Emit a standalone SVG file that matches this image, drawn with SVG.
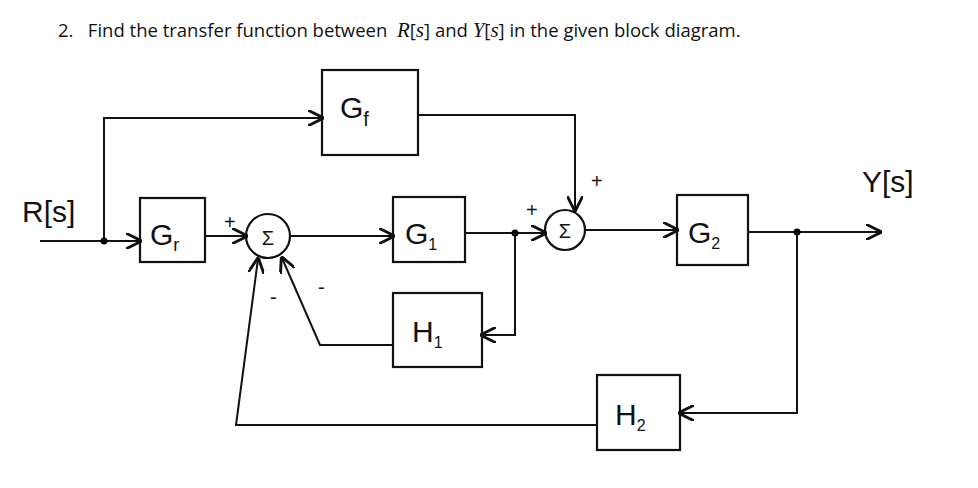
<svg xmlns="http://www.w3.org/2000/svg" width="978" height="488" viewBox="0 0 978 488">
<style>
.b{fill:none;stroke:#111;stroke-width:2.2}
.l{fill:none;stroke:#111;stroke-width:2}
.h{font-family:"Liberation Sans",sans-serif;font-size:30px;fill:#111}
.s{font-family:"Liberation Sans",sans-serif;font-size:20px;fill:#111}
.t{font-family:"Open Sans","Liberation Sans",sans-serif;font-size:18.5px;fill:#111}
</style>
<defs><marker id="a" viewBox="0 0 10 10" refX="9" refY="5" markerWidth="8" markerHeight="8" orient="auto"><path d="M0,0L10,5L0,10" fill="none" stroke="#111" stroke-width="1.8"/></marker></defs>
<rect width="978" height="488" fill="#fff"/>
<text x="58" y="37" class="t" xml:space="preserve">2.   Find the transfer function between  <tspan font-family="Liberation Serif" font-style="italic" font-size="21">R</tspan>[<tspan font-family="Liberation Serif" font-style="italic" font-size="21">s</tspan>] and <tspan font-family="Liberation Serif" font-style="italic" font-size="21">Y</tspan>[<tspan font-family="Liberation Serif" font-style="italic" font-size="21">s</tspan>] in the given block diagram.</text>
<g id="Gf"><rect x="322" y="70" width="96" height="85" class="b"/><text x="340" y="118" class="h">G<tspan font-size="20" dy="8">f</tspan></text></g>
<g id="Gr"><rect x="140" y="198" width="65" height="64" class="b"/><text x="150" y="245" class="h">G<tspan font-size="18" dy="6">r</tspan></text></g>
<g id="S1"><circle cx="268" cy="236" r="22" class="b"/><text x="268" y="245" class="s" font-size="26" text-anchor="middle">Σ</text></g>
<g id="G1"><rect x="393" y="197" width="72" height="65" class="b"/><text x="405" y="244" class="h">G<tspan font-size="16" dy="6">1</tspan></text></g>
<g id="S2"><circle cx="565" cy="230" r="20" class="b"/><text x="565" y="238" class="s" font-size="22" text-anchor="middle">Σ</text></g>
<g id="G2"><rect x="677" y="195" width="71" height="70" class="b"/><text x="688" y="243" class="h">G<tspan font-size="16" dy="6">2</tspan></text></g>
<g id="H1"><rect x="393" y="293" width="89" height="74" class="b"/><text x="412" y="342" class="h">H<tspan font-size="16" dy="6">1</tspan></text></g>
<g id="H2"><rect x="597" y="375" width="83" height="75" class="b"/><text x="615" y="425" class="h">H<tspan font-size="16" dy="6">2</tspan></text></g>
<g id="labels">
<text x="22" y="222" class="h" font-size="24">R[s]</text>
<text x="862" y="192" class="h" font-size="24">Y[s]</text>
<text x="224" y="229" class="s">+</text>
<text x="526" y="217" class="s">+</text>
<text x="591" y="188" class="s">+</text>
<text x="318" y="294" class="s">-</text>
<text x="270" y="304" class="s">-</text>
</g>
<g id="connectors">
<path d="M40,241H140" class="l" marker-end="url(#a)"/>
<circle cx="104" cy="241" r="3.5"/>
<path d="M104,241V118H322" class="l" marker-end="url(#a)"/>
<path d="M418,115H575V210" class="l" marker-end="url(#a)"/>
<path d="M205,236H246" class="l" marker-end="url(#a)"/>
<path d="M290,236H393" class="l" marker-end="url(#a)"/>
<path d="M465,233H545" class="l" marker-end="url(#a)"/>
<circle cx="515" cy="233" r="3.5"/>
<path d="M515,233V335H482" class="l" marker-end="url(#a)"/>
<path d="M393,345H320L282,258" class="l" marker-end="url(#a)"/>
<path d="M585,230H677" class="l" marker-end="url(#a)"/>
<path d="M748,232H880" class="l" marker-end="url(#a)"/>
<circle cx="797" cy="232" r="3.5"/>
<path d="M797,232V413H680" class="l" marker-end="url(#a)"/>
<path d="M597,425H236L258,259" class="l" marker-end="url(#a)"/>
</g>
</svg>
